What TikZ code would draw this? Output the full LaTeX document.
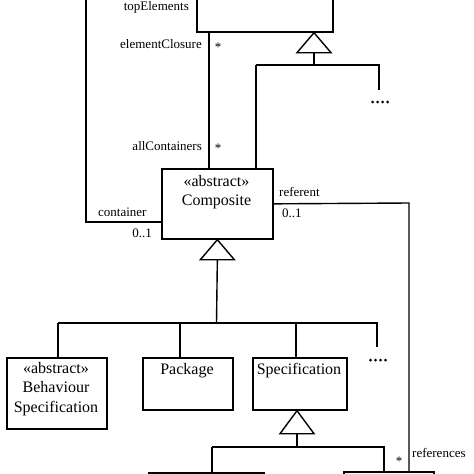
\documentclass[tikz,border=0pt]{standalone}
\usepackage{fontspec}
\setmainfont{Liberation Serif}
\begin{document}
\begin{tikzpicture}[x=1pt,y=-1pt,
  box/.style={draw, line width=1.7pt, rectangle, inner sep=0pt, anchor=north west},
  boxtext/.style={font=\fontsize{16}{19.5}\selectfont, align=center, inner sep=0pt, anchor=north},
  role/.style={font=\fontsize{13}{15}\selectfont, inner sep=0pt},
  conn/.style={line width=1.4pt},
  gen/.style={draw, line width=1.4pt, fill=white, line join=miter},
]
\useasboundingbox (0,0) rectangle (474,474);
% boxes
\node[box, minimum width=136pt, minimum height=70pt] (top) at (196,-39) {};
\node[box, minimum width=111pt, minimum height=70pt] (comp) at (161,168) {};
\node[box, minimum width=100pt, minimum height=71pt] (beh) at (6,357) {};
\node[box, minimum width=90pt, minimum height=52pt] (pkg) at (142,357) {};
\node[box, minimum width=94pt, minimum height=52pt] (spec) at (252,357) {};
\node[box, minimum width=115pt, minimum height=40pt] (bl) at (148,472) {};
\node[box, minimum width=90pt, minimum height=40pt] (br) at (343,471) {};
% box texts
\node[boxtext] (compt) at (216.5,175) {«abstract»\\Composite};
\node[boxtext] (beht) at (56,362) {«abstract»\\Behaviour\\Specification};
\node[boxtext] (pkgt) at (187,363) {Package};
\node[boxtext] (spect) at (299,363) {Specification};
% coordinates
\coordinate (ec) at (209,0);
\coordinate (t1) at (314,51);
\coordinate (j1) at (314,65);
\coordinate (l1) at (256,65);
\coordinate (r1) at (379,65);
\coordinate (r1e) at (379,90);
\coordinate (cy) at (86,222);
\coordinate (c1) at (86,-20);
\coordinate (rf) at (409,203);
\coordinate (h2) at (216.5,323);
\coordinate (b1) at (58,323);
\coordinate (b2) at (180,323);
\coordinate (b3) at (296,323);
\coordinate (b4) at (377,323);
\coordinate (b4e) at (377,347);
\coordinate (s3) at (297,447);
\coordinate (d1) at (212,447);
\coordinate (d2) at (384,447);
% associations
\draw[conn] (top.south -| ec) -- (comp.north -| ec);
\draw[conn] (comp.west |- cy) -- (cy) -- (c1) -- (c1 -| top.west);
\draw[conn] (comp.east) -- (rf) -- (rf |- br.north);
% generalization to top
\draw[conn] (t1) -- (j1);
\draw[conn] (l1) -- (r1) -- (r1e);
\draw[conn] (l1) -- (l1 |- comp.north);
\draw[gen] (top.south -| t1) -- ++(-17,20) -- ++(34,0) -- cycle;
% generalization to composite
\draw[conn] (comp.south) ++(0,20) -- (h2);
\draw[conn] (b1) -- (b4) -- (b4e);
\draw[conn] (b1) -- (b1 |- beh.north);
\draw[conn] (b2) -- (b2 |- pkg.north);
\draw[conn] (b3) -- (b3 |- spec.north);
\draw[gen] (comp.south) -- ++(-17,20) -- ++(34,0) -- cycle;
% generalization to specification
\draw[conn] (spec.south -| s3) ++(0,23) -- (s3);
\draw[conn] (d1) -- (d2) -- (d2 |- br.north);
\draw[conn] (d1) -- (d1 |- bl.north);
\draw[gen] (spec.south -| s3) -- ++(-17,23) -- ++(34,0) -- cycle;
% dots
\foreach \i in {0,1,2,3} {
  \fill (372.5+5*\i,102) circle (1.5pt);
  \fill (370.5+5*\i,360) circle (1.5pt);
}
% role labels
\node[role, anchor=base east] (lte) at (189,10) {topElements};
\node[role, anchor=base east] (lec) at (202,48) {elementClosure};
\node[role, anchor=base] (sec) at (218,51) {*};
\node[role, anchor=base east] (lac) at (202,150) {allContainers};
\node[role, anchor=base] (sac) at (218,152) {*};
\node[role, anchor=base west] (lco) at (98,216) {container};
\node[role, anchor=base east] (lzo) at (152,237) {0..1};
\node[role, anchor=base west] (lre) at (279,196) {referent};
\node[role, anchor=base west] (lzr) at (282,217) {0..1};
\node[role, anchor=base west] (lrf) at (412,457) {references};
\node[role, anchor=base] (srf) at (399,465) {*};
\end{tikzpicture}
\end{document}
